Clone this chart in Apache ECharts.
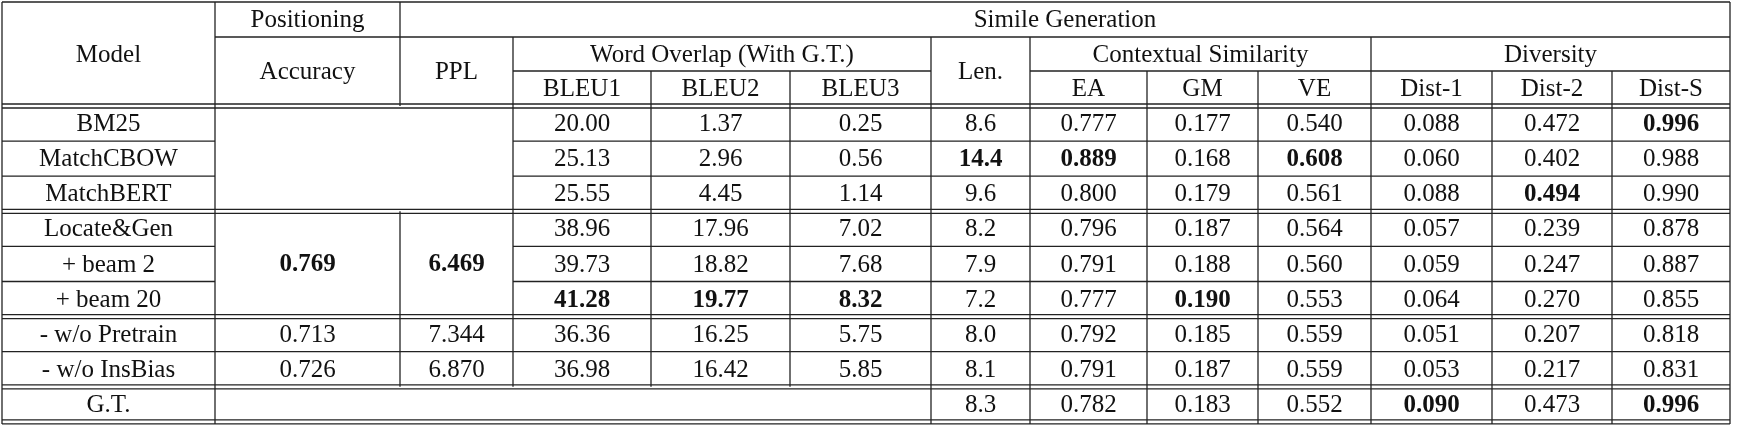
<!DOCTYPE html>
<html><head><meta charset="utf-8">
<script src="https://cdn.jsdelivr.net/npm/echarts@6/dist/echarts.min.js"></script>
<style>html,body{margin:0;padding:0;background:#fff}#c{width:1738px;height:429px}</style>
</head><body><div id="c"></div>
<script>
const models = ['BM25','MatchCBOW','MatchBERT','Locate&Gen','+ beam 2','+ beam 20','- w/o Pretrain','- w/o InsBias','G.T.'];
const subHeaders = ['BLEU1','BLEU2','BLEU3','Len.','EA','GM','VE','Dist-1','Dist-2','Dist-S'];
const accuracy = ['', '', '', '0.769', '', '', '0.713', '0.726', ''];
const ppl = ['', '', '', '6.469', '', '', '7.344', '6.870', ''];
const bleu1 = ['20.00','25.13','25.55','38.96','39.73','41.28','36.36','36.98',''];
const bleu2 = ['1.37','2.96','4.45','17.96','18.82','19.77','16.25','16.42',''];
const bleu3 = ['0.25','0.56','1.14','7.02','7.68','8.32','5.75','5.85',''];
const len = ['8.6','14.4','9.6','8.2','7.9','7.2','8.0','8.1','8.3'];
const ea = ['0.777','0.889','0.800','0.796','0.791','0.777','0.792','0.791','0.782'];
const gm = ['0.177','0.168','0.179','0.187','0.188','0.190','0.185','0.187','0.183'];
const ve = ['0.540','0.608','0.561','0.564','0.560','0.553','0.559','0.559','0.552'];
const dist1 = ['0.088','0.060','0.088','0.057','0.059','0.064','0.051','0.053','0.090'];
const dist2 = ['0.472','0.402','0.494','0.239','0.247','0.270','0.207','0.217','0.473'];
const distS = ['0.996','0.988','0.990','0.878','0.887','0.855','0.818','0.831','0.996'];
const boldCells = ['0,12','1,6','1,7','1,9','2,11','3,1','3,2','5,3','5,4','5,5','5,8','8,10','8,12'];

const colX = [2,215,400,513,651,790,931,1030,1147,1258,1371,1492,1612,1730];
const hY = [2,37,71,106];
const rowH = 35.1;
const rowY = models.map((_,i)=>hY[3]+i*rowH); rowY.push(hY[3]+models.length*rowH);
const FS = 25, FONT = '"Liberation Serif","DejaVu Serif",serif';
const g = [];
function txt(s,x0,x1,y0,y1,bold){ if(!s) return; g.push({type:'text',style:{text:s,x:(x0+x1)/2,y:(y0+y1)/2+1,align:'center',verticalAlign:'middle',font:(bold?'bold ':'')+FS+'px '+FONT,fill:'#111'}}); }
function hl(x0,x1,y){ g.push({type:'line',shape:{x1:x0,y1:y,x2:x1,y2:y},style:{stroke:'#222',lineWidth:1.3}}); }
function vl(x,y0,y1){ g.push({type:'line',shape:{x1:x,y1:y0,x2:x,y2:y1},style:{stroke:'#222',lineWidth:1.3}}); }
txt('Model',colX[0],colX[1],hY[0],hY[3]);
txt('Positioning',colX[1],colX[2],hY[0],hY[1]);
txt('Simile Generation',colX[2],colX[13],hY[0],hY[1]);
txt('Accuracy',colX[1],colX[2],hY[1],hY[3]);
txt('PPL',colX[2],colX[3],hY[1],hY[3]);
txt('Word Overlap (With G.T.)',colX[3],colX[6],hY[1],hY[2]);
txt('Len.',colX[6],colX[7],hY[1],hY[3]);
txt('Contextual Similarity',colX[7],colX[10],hY[1],hY[2]);
txt('Diversity',colX[10],colX[13],hY[1],hY[2]);
subHeaders.forEach((s,i)=>{ const c=i<3?3+i:(i===3?-1:i+3); if(c>0) txt(s,colX[c],colX[c+1],hY[2],hY[3]); });
const cols = [models,accuracy,ppl,bleu1,bleu2,bleu3,len,ea,gm,ve,dist1,dist2,distS];
models.forEach((m,r)=>{
  cols.forEach((arr,c)=>{
    let y0=rowY[r], y1=rowY[r+1];
    if((c===1||c===2) && r===3){ y1=rowY[6]; }
    txt(arr[r],colX[c],colX[c+1],y0,y1,boldCells.includes(r+','+c));
  });
});
hl(colX[0],colX[13],hY[0]);
hl(colX[1],colX[13],hY[1]);
hl(colX[3],colX[6],hY[2]); hl(colX[7],colX[13],hY[2]);
const dbl=[hY[3],rowY[3],rowY[6],rowY[8],rowY[9]];
dbl.forEach(y=>{hl(colX[0],colX[13],y-2); hl(colX[0],colX[13],y+2);});
[1,2,4,5].forEach(r=>{ hl(colX[0],colX[1],rowY[r]); hl(colX[3],colX[13],rowY[r]); });
hl(colX[0],colX[13],rowY[7]);
const yTop=hY[0], yBot=rowY[9]+2;
vl(colX[0],yTop,yBot); vl(colX[13],yTop,yBot); vl(colX[1],yTop,yBot);
vl(colX[2],yTop,hY[1]);
vl(colX[2],hY[1],hY[3]); vl(colX[2],rowY[3],rowY[8]);
vl(colX[3],hY[1],rowY[8]);
[4,5].forEach(c=>{vl(colX[c],hY[2],rowY[8]);});
vl(colX[6],hY[1],yBot);
[8,9].forEach(c=>vl(colX[c],hY[2],yBot)); vl(colX[7],hY[1],yBot);
vl(colX[10],hY[1],yBot); [11,12].forEach(c=>vl(colX[c],hY[2],yBot));
const chart=echarts.init(document.getElementById('c'));
chart.setOption({animation:false,graphic:{elements:g}});
</script></body></html>
